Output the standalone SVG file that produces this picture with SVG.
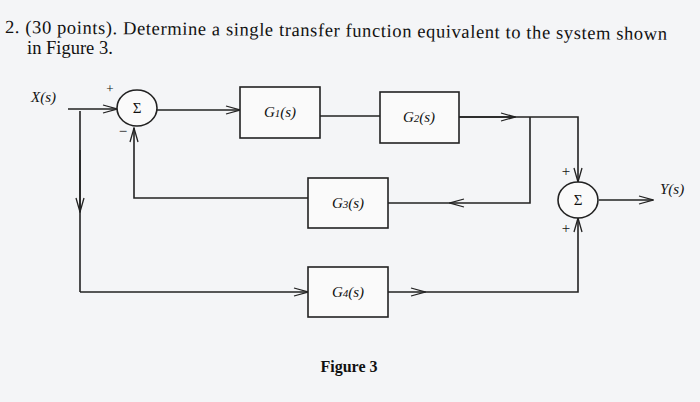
<svg xmlns="http://www.w3.org/2000/svg" width="700" height="402" viewBox="0 0 700 402">
<defs>
<marker id="a" markerWidth="16" markerHeight="10" refX="15" refY="5" orient="auto" markerUnits="userSpaceOnUse"><path d="M1,1 L15,5 L1,9" fill="none" stroke="#222" stroke-width="1.3"/></marker>
<style>
.t{font-family:"Liberation Serif",serif;fill:#111}
.i{font-family:"Liberation Serif",serif;font-style:italic;font-size:15px;fill:#111}
.l{fill:none;stroke:#222;stroke-width:1.6}
.b{fill:#fafafa;stroke:#222;stroke-width:1.6}
</style>
</defs>
<rect width="700" height="402" fill="#f4f5f7"/>
<text class="t" x="5" y="33" font-size="18.5" textLength="662" transform="rotate(0.6 5 33)">2.  (30 points). Determine a single transfer function equivalent to the system shown</text>
<text class="t" x="27" y="54" font-size="18.5">in Figure 3.</text>
<g id="connectors" class="l">
<path d="M68,109 H117" marker-end="url(#a)"/>
<path d="M80,111 V292" />
<path d="M80,150 V212" marker-end="url(#a)"/>
<path d="M80,292 H308" marker-end="url(#a)"/>
<path d="M157,110 H240" marker-end="url(#a)"/>
<path d="M320,116 H380"/>
<path d="M459,117 H515" marker-end="url(#a)"/>
<path d="M459,117 H578 V182" marker-end="url(#a)"/>
<path d="M530,117 V203 H450" marker-end="url(#a)"/>
<path d="M450,203 H388"/>
<path d="M308,198 H134 V128" marker-end="url(#a)"/>
<path d="M599,200 H653" marker-end="url(#a)"/>
<path d="M388,292 H425" marker-end="url(#a)"/>
<path d="M425,292 H578 V218" marker-end="url(#a)"/>
</g>
<g id="sum1"><ellipse class="b" cx="137" cy="108" rx="20" ry="18"/><text class="t" x="137" y="113" font-size="15" text-anchor="middle">Σ</text></g>
<g id="sum2"><ellipse class="b" cx="578" cy="200" rx="20" ry="18"/><text class="t" x="578" y="205" font-size="15" text-anchor="middle">Σ</text></g>
<g id="G1"><rect class="b" x="240" y="87" width="80" height="51"/><text class="i" x="280" y="117" text-anchor="middle">G<tspan font-size="11">1</tspan>(s)</text></g>
<g id="G2"><rect class="b" x="380" y="92" width="79" height="51"/><text class="i" x="419" y="122" text-anchor="middle">G<tspan font-size="11">2</tspan>(s)</text></g>
<g id="G3"><rect class="b" x="308" y="178" width="80" height="50"/><text class="i" x="348" y="208" text-anchor="middle">G<tspan font-size="11">3</tspan>(s)</text></g>
<g id="G4"><rect class="b" x="308" y="267" width="80" height="50"/><text class="i" x="348" y="297" text-anchor="middle">G<tspan font-size="11">4</tspan>(s)</text></g>
<text class="i" x="31" y="102">X(s)</text>
<text class="i" x="660" y="194">Y(s)</text>
<text class="t" x="110" y="93" font-size="13" text-anchor="middle">+</text>
<text class="t" x="123" y="136" font-size="15" text-anchor="middle">−</text>
<text class="t" x="566" y="176" font-size="15" text-anchor="middle">+</text>
<text class="t" x="566" y="233" font-size="15" text-anchor="middle">+</text>
<text class="t" x="349" y="372" font-size="16" font-weight="bold" text-anchor="middle">Figure 3</text>
</svg>
